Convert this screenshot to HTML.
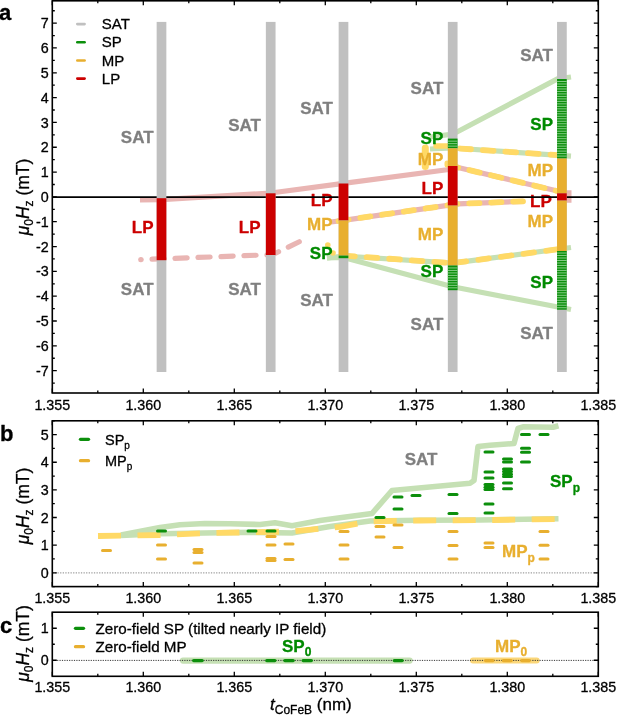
<!DOCTYPE html><html><head><meta charset="utf-8"><style>html,body{margin:0;padding:0;background:#fff;width:617px;height:715px;overflow:hidden}svg{display:block;will-change:transform}text{stroke:#000;stroke-width:0.3px;stroke-linejoin:round}</style></head><body>
<svg width="617" height="715" viewBox="0 0 617 715">
<rect width="617" height="715" fill="#fff"/>
<path d="M140.00,199.90 L161.50,199.60 L270.70,193.00 L343.50,183.30 L452.70,169.00" fill="none" stroke="#e9b5b3" stroke-width="5.2" stroke-linecap="butt" stroke-linejoin="round"/>
<path d="M140.70,259.60 L270.70,254.70 L277.00,252.50 L306.00,238.50" fill="none" stroke="#e9b5b3" stroke-width="5.2" stroke-linecap="round" stroke-linejoin="round" stroke-dasharray="12.2 10.8" stroke-dashoffset="11.7"/>
<path d="M331.00,222.00 L343.50,220.30 L452.70,204.60 L457.70,203.90 L523.00,201.30" fill="none" stroke="#e9b5b3" stroke-width="5.2" stroke-linecap="butt" stroke-linejoin="round"/>
<path d="M452.70,166.20 L565.00,192.80" fill="none" stroke="#e9b5b3" stroke-width="5.2" stroke-linecap="butt" stroke-linejoin="round"/>
<path d="M557.00,196.50 L571.50,196.50" fill="none" stroke="#e9b5b3" stroke-width="12.5" stroke-linecap="butt" stroke-linejoin="round"/>
<path d="M327.00,258.00 L343.50,257.50 L452.70,286.80 L571.00,309.50" fill="none" stroke="#c5e0b4" stroke-width="5.2" stroke-linecap="butt" stroke-linejoin="round"/>
<path d="M327.00,258.00 L343.50,256.00 L452.70,263.10 L571.00,247.50" fill="none" stroke="#c5e0b4" stroke-width="5.2" stroke-linecap="butt" stroke-linejoin="round"/>
<path d="M430.00,137.00 L452.70,134.20 L557.50,78.90 L571.00,77.00" fill="none" stroke="#c5e0b4" stroke-width="5.2" stroke-linecap="butt" stroke-linejoin="round"/>
<path d="M430.00,149.00 L452.70,148.00 L571.00,156.20" fill="none" stroke="#c5e0b4" stroke-width="5.2" stroke-linecap="butt" stroke-linejoin="round"/>
<path d="M338.50,221.00 L452.70,204.60 L457.70,203.90 L523.00,201.30" fill="none" stroke="#ffd966" stroke-width="5.8" stroke-linecap="round" stroke-linejoin="round" stroke-dasharray="10.2 11.8"/>
<path d="M452.70,166.20 L562.00,192.20" fill="none" stroke="#ffd966" stroke-width="5.8" stroke-linecap="round" stroke-linejoin="round" stroke-dasharray="10.7 11.5" stroke-dashoffset="5.1"/>
<path d="M343.50,255.60 L452.70,263.10" fill="none" stroke="#ffd966" stroke-width="5.8" stroke-linecap="round" stroke-linejoin="round" stroke-dasharray="10.7 11.9" stroke-dashoffset="22"/>
<path d="M452.70,263.10 L562.00,248.80" fill="none" stroke="#ffd966" stroke-width="5.8" stroke-linecap="round" stroke-linejoin="round" stroke-dasharray="10.7 12.1" stroke-dashoffset="19.8"/>
<path d="M452.70,148.00 L562.00,155.50" fill="none" stroke="#ffd966" stroke-width="5.8" stroke-linecap="round" stroke-linejoin="round" stroke-dasharray="10.7 11.9" stroke-dashoffset="15"/>
<path d="M448.00,146.00 L436.00,146.00" fill="none" stroke="#ffd966" stroke-width="5.4" stroke-linecap="round" stroke-linejoin="round"/>
<path d="M425.30,148.00 L425.30,166.50" fill="none" stroke="#ffd966" stroke-width="7" stroke-linecap="round" stroke-linejoin="round"/>
<path d="M447.00,163.00 L447.00,165.00" fill="none" stroke="#ffd966" stroke-width="5" stroke-linecap="round" stroke-linejoin="round"/>
<circle cx="327.8" cy="245" r="2.8" fill="#ffd966"/><circle cx="333" cy="253" r="2.8" fill="#ffd966"/>
<text x="153.6" y="142.90" text-anchor="end" font-size="17" font-weight="bold" fill="#7f7f7f" style="stroke:#7f7f7f" font-family="Liberation Sans, sans-serif">SAT</text>
<text x="153.6" y="294.90" text-anchor="end" font-size="17" font-weight="bold" fill="#7f7f7f" style="stroke:#7f7f7f" font-family="Liberation Sans, sans-serif">SAT</text>
<text x="153.6" y="232.60" text-anchor="end" font-size="17" font-weight="bold" fill="#cc0000" style="stroke:#cc0000" font-family="Liberation Sans, sans-serif">LP</text>
<text x="261" y="130.90" text-anchor="end" font-size="17" font-weight="bold" fill="#7f7f7f" style="stroke:#7f7f7f" font-family="Liberation Sans, sans-serif">SAT</text>
<text x="261" y="294.90" text-anchor="end" font-size="17" font-weight="bold" fill="#7f7f7f" style="stroke:#7f7f7f" font-family="Liberation Sans, sans-serif">SAT</text>
<text x="260.6" y="233.10" text-anchor="end" font-size="17" font-weight="bold" fill="#cc0000" style="stroke:#cc0000" font-family="Liberation Sans, sans-serif">LP</text>
<text x="333" y="113.60" text-anchor="end" font-size="17" font-weight="bold" fill="#7f7f7f" style="stroke:#7f7f7f" font-family="Liberation Sans, sans-serif">SAT</text>
<text x="333" y="305.90" text-anchor="end" font-size="17" font-weight="bold" fill="#7f7f7f" style="stroke:#7f7f7f" font-family="Liberation Sans, sans-serif">SAT</text>
<text x="332.5" y="205.90" text-anchor="end" font-size="17" font-weight="bold" fill="#cc0000" style="stroke:#cc0000" font-family="Liberation Sans, sans-serif">LP</text>
<text x="332.5" y="229.80" text-anchor="end" font-size="17" font-weight="bold" fill="#e8af2f" style="stroke:#e8af2f" font-family="Liberation Sans, sans-serif">MP</text>
<text x="332.5" y="259.00" text-anchor="end" font-size="17" font-weight="bold" fill="#008a00" style="stroke:#008a00" font-family="Liberation Sans, sans-serif">SP</text>
<text x="443.3" y="94.30" text-anchor="end" font-size="17" font-weight="bold" fill="#7f7f7f" style="stroke:#7f7f7f" font-family="Liberation Sans, sans-serif">SAT</text>
<text x="443.3" y="143.80" text-anchor="end" font-size="17" font-weight="bold" fill="#008a00" style="stroke:#008a00" font-family="Liberation Sans, sans-serif">SP</text>
<text x="443.3" y="165.20" text-anchor="end" font-size="17" font-weight="bold" fill="#e8af2f" style="stroke:#e8af2f" font-family="Liberation Sans, sans-serif">MP</text>
<text x="443.3" y="194.40" text-anchor="end" font-size="17" font-weight="bold" fill="#cc0000" style="stroke:#cc0000" font-family="Liberation Sans, sans-serif">LP</text>
<text x="443.3" y="239.60" text-anchor="end" font-size="17" font-weight="bold" fill="#e8af2f" style="stroke:#e8af2f" font-family="Liberation Sans, sans-serif">MP</text>
<text x="443.3" y="277.00" text-anchor="end" font-size="17" font-weight="bold" fill="#008a00" style="stroke:#008a00" font-family="Liberation Sans, sans-serif">SP</text>
<text x="443.3" y="330.10" text-anchor="end" font-size="17" font-weight="bold" fill="#7f7f7f" style="stroke:#7f7f7f" font-family="Liberation Sans, sans-serif">SAT</text>
<text x="553" y="60.50" text-anchor="end" font-size="17" font-weight="bold" fill="#7f7f7f" style="stroke:#7f7f7f" font-family="Liberation Sans, sans-serif">SAT</text>
<text x="553" y="129.70" text-anchor="end" font-size="17" font-weight="bold" fill="#008a00" style="stroke:#008a00" font-family="Liberation Sans, sans-serif">SP</text>
<text x="553" y="175.60" text-anchor="end" font-size="17" font-weight="bold" fill="#e8af2f" style="stroke:#e8af2f" font-family="Liberation Sans, sans-serif">MP</text>
<text x="551.8" y="206.70" text-anchor="end" font-size="17" font-weight="bold" fill="#cc0000" style="stroke:#cc0000" font-family="Liberation Sans, sans-serif">LP</text>
<text x="553" y="226.60" text-anchor="end" font-size="17" font-weight="bold" fill="#e8af2f" style="stroke:#e8af2f" font-family="Liberation Sans, sans-serif">MP</text>
<text x="553" y="288.40" text-anchor="end" font-size="17" font-weight="bold" fill="#008a00" style="stroke:#008a00" font-family="Liberation Sans, sans-serif">SP</text>
<text x="553" y="339.40" text-anchor="end" font-size="17" font-weight="bold" fill="#7f7f7f" style="stroke:#7f7f7f" font-family="Liberation Sans, sans-serif">SAT</text>
<path d="M52.3,197.1H598.3" stroke="#000" stroke-width="1.7"/>
<rect x="156.65" y="21.90" width="9.7" height="350.10" fill="#c0c0c0"/>
<rect x="265.85" y="21.90" width="9.7" height="350.10" fill="#c0c0c0"/>
<rect x="338.65" y="21.90" width="9.7" height="350.10" fill="#c0c0c0"/>
<rect x="447.85" y="21.90" width="9.7" height="350.10" fill="#c0c0c0"/>
<rect x="557.05" y="21.90" width="9.7" height="350.10" fill="#c0c0c0"/>
<rect x="156.65" y="198.20" width="9.7" height="62.00" fill="#cc0000"/>
<rect x="265.85" y="193.30" width="9.7" height="61.70" fill="#cc0000"/>
<rect x="338.65" y="183.50" width="9.7" height="37.00" fill="#cc0000"/>
<rect x="338.65" y="220.50" width="9.7" height="35.10" fill="#e8af2f"/>
<rect x="338.65" y="255.60" width="9.7" height="2.60" fill="#0c8f0c"/>
<rect x="447.85" y="138.60" width="9.7" height="9.70" fill="#0c8f0c"/>
<path d="M447.85,146.14h9.7M447.85,143.65h9.7M447.85,141.16h9.7" stroke="#86cc86" stroke-width="1.0"/>
<rect x="447.85" y="148.30" width="9.7" height="17.70" fill="#e8af2f"/>
<rect x="447.85" y="166.00" width="9.7" height="39.60" fill="#cc0000"/>
<rect x="447.85" y="205.60" width="9.7" height="59.90" fill="#e8af2f"/>
<rect x="447.85" y="265.50" width="9.7" height="24.70" fill="#0c8f0c"/>
<path d="M447.85,287.84h9.7M447.85,285.35h9.7M447.85,282.87h9.7M447.85,280.38h9.7M447.85,277.89h9.7M447.85,275.41h9.7M447.85,272.92h9.7M447.85,270.44h9.7M447.85,267.95h9.7" stroke="#86cc86" stroke-width="1.0"/>
<rect x="557.05" y="79.00" width="9.7" height="79.50" fill="#0c8f0c"/>
<path d="M557.05,156.08h9.7M557.05,153.59h9.7M557.05,151.11h9.7M557.05,148.62h9.7M557.05,146.14h9.7M557.05,143.65h9.7M557.05,141.16h9.7M557.05,138.68h9.7M557.05,136.19h9.7M557.05,133.71h9.7M557.05,131.22h9.7M557.05,128.73h9.7M557.05,126.25h9.7M557.05,123.76h9.7M557.05,121.28h9.7M557.05,118.79h9.7M557.05,116.30h9.7M557.05,113.82h9.7M557.05,111.33h9.7M557.05,108.85h9.7M557.05,106.36h9.7M557.05,103.87h9.7M557.05,101.39h9.7M557.05,98.90h9.7M557.05,96.42h9.7M557.05,93.93h9.7M557.05,91.44h9.7M557.05,88.96h9.7M557.05,86.47h9.7M557.05,83.99h9.7M557.05,81.50h9.7" stroke="#86cc86" stroke-width="1.0"/>
<rect x="557.05" y="158.50" width="9.7" height="34.80" fill="#e8af2f"/>
<rect x="557.05" y="193.30" width="9.7" height="7.30" fill="#cc0000"/>
<rect x="557.05" y="200.60" width="9.7" height="50.40" fill="#e8af2f"/>
<rect x="557.05" y="251.00" width="9.7" height="58.70" fill="#0c8f0c"/>
<path d="M557.05,307.73h9.7M557.05,305.24h9.7M557.05,302.75h9.7M557.05,300.27h9.7M557.05,297.78h9.7M557.05,295.30h9.7M557.05,292.81h9.7M557.05,290.32h9.7M557.05,287.84h9.7M557.05,285.35h9.7M557.05,282.87h9.7M557.05,280.38h9.7M557.05,277.89h9.7M557.05,275.41h9.7M557.05,272.92h9.7M557.05,270.44h9.7M557.05,267.95h9.7M557.05,265.46h9.7M557.05,262.98h9.7M557.05,260.49h9.7M557.05,258.01h9.7M557.05,255.52h9.7M557.05,253.03h9.7" stroke="#86cc86" stroke-width="1.0"/>
<path d="M77.3,24.10h7.3" stroke="#c0c0c0" stroke-width="2.6" stroke-linecap="round"/>
<text x="101.8" y="29.30" font-size="15" font-family="Liberation Sans, sans-serif">SAT</text>
<path d="M77.3,42.27h7.3" stroke="#0c8f0c" stroke-width="2.6" stroke-linecap="round"/>
<text x="101.8" y="47.47" font-size="15" font-family="Liberation Sans, sans-serif">SP</text>
<path d="M77.3,60.44h7.3" stroke="#e8af2f" stroke-width="2.6" stroke-linecap="round"/>
<text x="101.8" y="65.64" font-size="15" font-family="Liberation Sans, sans-serif">MP</text>
<path d="M77.3,78.61h7.3" stroke="#cc0000" stroke-width="2.6" stroke-linecap="round"/>
<text x="101.8" y="83.81" font-size="15" font-family="Liberation Sans, sans-serif">LP</text>
<rect x="52.3" y="0.8" width="546.0" height="392.2" fill="none" stroke="#000" stroke-width="1.6"/>
<path d="M52.30,393.0v-4.5M52.30,0.8v4.5M97.80,393.0v-2.5M97.80,0.8v2.5M143.30,393.0v-4.5M143.30,0.8v4.5M188.80,393.0v-2.5M188.80,0.8v2.5M234.30,393.0v-4.5M234.30,0.8v4.5M279.80,393.0v-2.5M279.80,0.8v2.5M325.30,393.0v-4.5M325.30,0.8v4.5M370.80,393.0v-2.5M370.80,0.8v2.5M416.30,393.0v-4.5M416.30,0.8v4.5M461.80,393.0v-2.5M461.80,0.8v2.5M507.30,393.0v-4.5M507.30,0.8v4.5M552.80,393.0v-2.5M552.80,0.8v2.5M598.30,393.0v-4.5M598.30,0.8v4.5M52.3,370.66h4.5M598.3,370.66h-4.5M52.3,345.84h4.5M598.3,345.84h-4.5M52.3,321.01h4.5M598.3,321.01h-4.5M52.3,296.19h4.5M598.3,296.19h-4.5M52.3,271.37h4.5M598.3,271.37h-4.5M52.3,246.55h4.5M598.3,246.55h-4.5M52.3,221.72h4.5M598.3,221.72h-4.5M52.3,196.90h4.5M598.3,196.90h-4.5M52.3,172.08h4.5M598.3,172.08h-4.5M52.3,147.25h4.5M598.3,147.25h-4.5M52.3,122.43h4.5M598.3,122.43h-4.5M52.3,97.61h4.5M598.3,97.61h-4.5M52.3,72.79h4.5M598.3,72.79h-4.5M52.3,47.96h4.5M598.3,47.96h-4.5M52.3,23.14h4.5M598.3,23.14h-4.5M52.3,383.07h2.5M598.3,383.07h-2.5M52.3,358.25h2.5M598.3,358.25h-2.5M52.3,333.43h2.5M598.3,333.43h-2.5M52.3,308.60h2.5M598.3,308.60h-2.5M52.3,283.78h2.5M598.3,283.78h-2.5M52.3,258.96h2.5M598.3,258.96h-2.5M52.3,234.13h2.5M598.3,234.13h-2.5M52.3,209.31h2.5M598.3,209.31h-2.5M52.3,184.49h2.5M598.3,184.49h-2.5M52.3,159.67h2.5M598.3,159.67h-2.5M52.3,134.84h2.5M598.3,134.84h-2.5M52.3,110.02h2.5M598.3,110.02h-2.5M52.3,85.20h2.5M598.3,85.20h-2.5M52.3,60.37h2.5M598.3,60.37h-2.5M52.3,35.55h2.5M598.3,35.55h-2.5M52.3,10.73h2.5M598.3,10.73h-2.5" stroke="#000" stroke-width="1.3" fill="none"/>
<text x="48.6" y="375.76" text-anchor="end" font-size="14.3" font-family="Liberation Sans, sans-serif">-7</text>
<text x="48.6" y="350.94" text-anchor="end" font-size="14.3" font-family="Liberation Sans, sans-serif">-6</text>
<text x="48.6" y="326.11" text-anchor="end" font-size="14.3" font-family="Liberation Sans, sans-serif">-5</text>
<text x="48.6" y="301.29" text-anchor="end" font-size="14.3" font-family="Liberation Sans, sans-serif">-4</text>
<text x="48.6" y="276.47" text-anchor="end" font-size="14.3" font-family="Liberation Sans, sans-serif">-3</text>
<text x="48.6" y="251.65" text-anchor="end" font-size="14.3" font-family="Liberation Sans, sans-serif">-2</text>
<text x="48.6" y="226.82" text-anchor="end" font-size="14.3" font-family="Liberation Sans, sans-serif">-1</text>
<text x="48.6" y="202.00" text-anchor="end" font-size="14.3" font-family="Liberation Sans, sans-serif">0</text>
<text x="48.6" y="177.18" text-anchor="end" font-size="14.3" font-family="Liberation Sans, sans-serif">1</text>
<text x="48.6" y="152.35" text-anchor="end" font-size="14.3" font-family="Liberation Sans, sans-serif">2</text>
<text x="48.6" y="127.53" text-anchor="end" font-size="14.3" font-family="Liberation Sans, sans-serif">3</text>
<text x="48.6" y="102.71" text-anchor="end" font-size="14.3" font-family="Liberation Sans, sans-serif">4</text>
<text x="48.6" y="77.89" text-anchor="end" font-size="14.3" font-family="Liberation Sans, sans-serif">5</text>
<text x="48.6" y="53.06" text-anchor="end" font-size="14.3" font-family="Liberation Sans, sans-serif">6</text>
<text x="48.6" y="28.24" text-anchor="end" font-size="14.3" font-family="Liberation Sans, sans-serif">7</text>
<text x="52.30" y="410.2" text-anchor="middle" font-size="14.3" font-family="Liberation Sans, sans-serif">1.355</text>
<text x="143.30" y="410.2" text-anchor="middle" font-size="14.3" font-family="Liberation Sans, sans-serif">1.360</text>
<text x="234.30" y="410.2" text-anchor="middle" font-size="14.3" font-family="Liberation Sans, sans-serif">1.365</text>
<text x="325.30" y="410.2" text-anchor="middle" font-size="14.3" font-family="Liberation Sans, sans-serif">1.370</text>
<text x="416.30" y="410.2" text-anchor="middle" font-size="14.3" font-family="Liberation Sans, sans-serif">1.375</text>
<text x="507.30" y="410.2" text-anchor="middle" font-size="14.3" font-family="Liberation Sans, sans-serif">1.380</text>
<text x="598.30" y="410.2" text-anchor="middle" font-size="14.3" font-family="Liberation Sans, sans-serif">1.385</text>
<text transform="translate(29.2,197) rotate(-90)" text-anchor="middle" font-size="17.5" font-family="Liberation Sans, sans-serif"><tspan font-style="italic">μ</tspan><tspan font-size="12" dy="4">0</tspan><tspan font-style="italic" dy="-4">H</tspan><tspan font-size="12" dy="4">z</tspan><tspan dy="-4"> (mT)</tspan></text>
<text x="-1" y="19.8" font-size="22" font-weight="bold" font-family="Liberation Sans, sans-serif">a</text>
<path d="M52.3,572.9H598" stroke="#888" stroke-width="1" stroke-dasharray="1.3 1.3"/>
<path d="M121.00,535.00 L134.00,532.50 L160.00,527.50 L180.00,524.80 L205.00,523.50 L230.00,523.80 L260.00,524.50 L275.00,522.80 L292.00,525.80 L320.00,520.50 L340.00,517.80 L372.00,513.50 L392.00,490.50 L470.00,483.20 L474.00,480.50 L478.00,446.50 L490.00,445.30 L514.00,443.50 L518.00,428.50 L523.00,426.80 L553.00,427.30 L558.50,425.80" fill="none" stroke="#c5e0b4" stroke-width="5.6" stroke-linecap="butt" stroke-linejoin="round"/>
<path d="M121.00,535.50 L160.00,533.80 L250.00,532.30 L292.00,533.00 L330.00,526.50 L370.00,521.00 L420.00,520.30 L480.00,520.00 L558.50,518.80" fill="none" stroke="#c5e0b4" stroke-width="5.6" stroke-linecap="butt" stroke-linejoin="round"/>
<path d="M98.00,536.00 L160.00,535.00 L200.00,533.30 L250.00,532.30 L292.00,531.50 L340.00,526.80 L370.00,521.30 L420.00,520.50 L480.00,520.20 L557.00,519.00" fill="none" stroke="#ffd966" stroke-width="5.8" stroke-linecap="butt" stroke-linejoin="round" stroke-dasharray="23 16.5"/>
<path d="M102.50,550.5h8" stroke="#e8af2f" stroke-width="3" stroke-linecap="round"/>
<path d="M157.50,545h8" stroke="#e8af2f" stroke-width="3" stroke-linecap="round"/>
<path d="M157.50,559h8" stroke="#e8af2f" stroke-width="3" stroke-linecap="round"/>
<path d="M194.00,549.5h8" stroke="#e8af2f" stroke-width="3" stroke-linecap="round"/>
<path d="M194.00,552.5h8" stroke="#e8af2f" stroke-width="3" stroke-linecap="round"/>
<path d="M194.00,563h8" stroke="#e8af2f" stroke-width="3" stroke-linecap="round"/>
<path d="M267.00,536.5h8" stroke="#e8af2f" stroke-width="3" stroke-linecap="round"/>
<path d="M267.00,545h8" stroke="#e8af2f" stroke-width="3" stroke-linecap="round"/>
<path d="M267.00,558.5h8" stroke="#e8af2f" stroke-width="3" stroke-linecap="round"/>
<path d="M267.00,560.5h8" stroke="#e8af2f" stroke-width="3" stroke-linecap="round"/>
<path d="M285.00,544h8" stroke="#e8af2f" stroke-width="3" stroke-linecap="round"/>
<path d="M285.00,559.5h8" stroke="#e8af2f" stroke-width="3" stroke-linecap="round"/>
<path d="M340.00,531.5h8" stroke="#e8af2f" stroke-width="3" stroke-linecap="round"/>
<path d="M340.00,545h8" stroke="#e8af2f" stroke-width="3" stroke-linecap="round"/>
<path d="M340.00,559h8" stroke="#e8af2f" stroke-width="3" stroke-linecap="round"/>
<path d="M376.00,526.5h8" stroke="#e8af2f" stroke-width="3" stroke-linecap="round"/>
<path d="M376.00,537h8" stroke="#e8af2f" stroke-width="3" stroke-linecap="round"/>
<path d="M394.00,525h8" stroke="#e8af2f" stroke-width="3" stroke-linecap="round"/>
<path d="M394.00,547.5h8" stroke="#e8af2f" stroke-width="3" stroke-linecap="round"/>
<path d="M449.00,531.5h8" stroke="#e8af2f" stroke-width="3" stroke-linecap="round"/>
<path d="M449.00,545.5h8" stroke="#e8af2f" stroke-width="3" stroke-linecap="round"/>
<path d="M449.00,559h8" stroke="#e8af2f" stroke-width="3" stroke-linecap="round"/>
<path d="M485.00,543h8" stroke="#e8af2f" stroke-width="3" stroke-linecap="round"/>
<path d="M485.00,547.5h8" stroke="#e8af2f" stroke-width="3" stroke-linecap="round"/>
<path d="M540.00,531.4h8" stroke="#e8af2f" stroke-width="3" stroke-linecap="round"/>
<path d="M540.00,545.2h8" stroke="#e8af2f" stroke-width="3" stroke-linecap="round"/>
<path d="M540.00,559h8" stroke="#e8af2f" stroke-width="3" stroke-linecap="round"/>
<path d="M157.50,531h8" stroke="#0c8f0c" stroke-width="3" stroke-linecap="round"/>
<path d="M248.00,531h8" stroke="#0c8f0c" stroke-width="3" stroke-linecap="round"/>
<path d="M267.00,531h8" stroke="#0c8f0c" stroke-width="3" stroke-linecap="round"/>
<path d="M376.00,517.5h8" stroke="#0c8f0c" stroke-width="3" stroke-linecap="round"/>
<path d="M394.00,497h8" stroke="#0c8f0c" stroke-width="3" stroke-linecap="round"/>
<path d="M394.00,509h8" stroke="#0c8f0c" stroke-width="3" stroke-linecap="round"/>
<path d="M412.00,495.5h8" stroke="#0c8f0c" stroke-width="3" stroke-linecap="round"/>
<path d="M449.00,494.5h8" stroke="#0c8f0c" stroke-width="3" stroke-linecap="round"/>
<path d="M449.00,513.5h8" stroke="#0c8f0c" stroke-width="3" stroke-linecap="round"/>
<path d="M485.00,452h8" stroke="#0c8f0c" stroke-width="3" stroke-linecap="round"/>
<path d="M485.00,472h8" stroke="#0c8f0c" stroke-width="3" stroke-linecap="round"/>
<path d="M485.00,478h8" stroke="#0c8f0c" stroke-width="3" stroke-linecap="round"/>
<path d="M485.00,484.6h8" stroke="#0c8f0c" stroke-width="3" stroke-linecap="round"/>
<path d="M485.00,487.2h8" stroke="#0c8f0c" stroke-width="3" stroke-linecap="round"/>
<path d="M485.00,489.6h8" stroke="#0c8f0c" stroke-width="3" stroke-linecap="round"/>
<path d="M485.00,504h8" stroke="#0c8f0c" stroke-width="3" stroke-linecap="round"/>
<path d="M485.00,513h8" stroke="#0c8f0c" stroke-width="3" stroke-linecap="round"/>
<path d="M503.50,459h8" stroke="#0c8f0c" stroke-width="3" stroke-linecap="round"/>
<path d="M503.50,462h8" stroke="#0c8f0c" stroke-width="3" stroke-linecap="round"/>
<path d="M503.50,469h8" stroke="#0c8f0c" stroke-width="3" stroke-linecap="round"/>
<path d="M503.50,471.6h8" stroke="#0c8f0c" stroke-width="3" stroke-linecap="round"/>
<path d="M503.50,474.2h8" stroke="#0c8f0c" stroke-width="3" stroke-linecap="round"/>
<path d="M503.50,476.6h8" stroke="#0c8f0c" stroke-width="3" stroke-linecap="round"/>
<path d="M503.50,483h8" stroke="#0c8f0c" stroke-width="3" stroke-linecap="round"/>
<path d="M503.50,488.7h8" stroke="#0c8f0c" stroke-width="3" stroke-linecap="round"/>
<path d="M521.50,434.4h8" stroke="#0c8f0c" stroke-width="3" stroke-linecap="round"/>
<path d="M521.50,448.3h8" stroke="#0c8f0c" stroke-width="3" stroke-linecap="round"/>
<path d="M521.50,452.2h8" stroke="#0c8f0c" stroke-width="3" stroke-linecap="round"/>
<path d="M521.50,462h8" stroke="#0c8f0c" stroke-width="3" stroke-linecap="round"/>
<path d="M540.00,434.4h8" stroke="#0c8f0c" stroke-width="3" stroke-linecap="round"/>
<text x="437.5" y="464.50" text-anchor="end" font-size="17" font-weight="bold" fill="#7f7f7f" style="stroke:#7f7f7f" font-family="Liberation Sans, sans-serif">SAT</text>
<text x="550" y="486.8" font-size="17" font-weight="bold" fill="#008a00" style="stroke:#008a00" font-family="Liberation Sans, sans-serif">SP<tspan font-size="12" dy="5">p</tspan></text>
<text x="502" y="556.8" font-size="17" font-weight="bold" fill="#e8af2f" style="stroke:#e8af2f" font-family="Liberation Sans, sans-serif">MP<tspan font-size="12" dy="5">p</tspan></text>
<path d="M80.5,439.3h8" stroke="#0c8f0c" stroke-width="3.3" stroke-linecap="round"/>
<path d="M80.5,460.7h8" stroke="#e8af2f" stroke-width="3.3" stroke-linecap="round"/>
<text x="105" y="444.7" font-size="14.5" font-family="Liberation Sans, sans-serif">SP<tspan font-size="10" dy="4">p</tspan></text>
<text x="105" y="466.1" font-size="14.5" font-family="Liberation Sans, sans-serif">MP<tspan font-size="10" dy="4">p</tspan></text>
<rect x="52.3" y="420.8" width="546.0" height="165.8" fill="none" stroke="#000" stroke-width="1.6"/>
<path d="M52.30,586.6v-4.5M52.30,420.8v4.5M97.80,586.6v-2.5M97.80,420.8v2.5M143.30,586.6v-4.5M143.30,420.8v4.5M188.80,586.6v-2.5M188.80,420.8v2.5M234.30,586.6v-4.5M234.30,420.8v4.5M279.80,586.6v-2.5M279.80,420.8v2.5M325.30,586.6v-4.5M325.30,420.8v4.5M370.80,586.6v-2.5M370.80,420.8v2.5M416.30,586.6v-4.5M416.30,420.8v4.5M461.80,586.6v-2.5M461.80,420.8v2.5M507.30,586.6v-4.5M507.30,420.8v4.5M552.80,586.6v-2.5M552.80,420.8v2.5M598.30,586.6v-4.5M598.30,420.8v4.5M52.3,572.78h4.5M598.3,572.78h-4.5M52.3,545.15h4.5M598.3,545.15h-4.5M52.3,517.52h4.5M598.3,517.52h-4.5M52.3,489.88h4.5M598.3,489.88h-4.5M52.3,462.25h4.5M598.3,462.25h-4.5M52.3,434.62h4.5M598.3,434.62h-4.5M52.3,586.60h2.5M598.3,586.60h-2.5M52.3,558.97h2.5M598.3,558.97h-2.5M52.3,531.33h2.5M598.3,531.33h-2.5M52.3,503.70h2.5M598.3,503.70h-2.5M52.3,476.07h2.5M598.3,476.07h-2.5M52.3,448.43h2.5M598.3,448.43h-2.5M52.3,420.80h2.5M598.3,420.80h-2.5" stroke="#000" stroke-width="1.3" fill="none"/>
<text x="48.6" y="577.88" text-anchor="end" font-size="14.3" font-family="Liberation Sans, sans-serif">0</text>
<text x="48.6" y="550.25" text-anchor="end" font-size="14.3" font-family="Liberation Sans, sans-serif">1</text>
<text x="48.6" y="522.62" text-anchor="end" font-size="14.3" font-family="Liberation Sans, sans-serif">2</text>
<text x="48.6" y="494.98" text-anchor="end" font-size="14.3" font-family="Liberation Sans, sans-serif">3</text>
<text x="48.6" y="467.35" text-anchor="end" font-size="14.3" font-family="Liberation Sans, sans-serif">4</text>
<text x="48.6" y="439.72" text-anchor="end" font-size="14.3" font-family="Liberation Sans, sans-serif">5</text>
<text x="52.30" y="602.5" text-anchor="middle" font-size="14.3" font-family="Liberation Sans, sans-serif">1.355</text>
<text x="143.30" y="602.5" text-anchor="middle" font-size="14.3" font-family="Liberation Sans, sans-serif">1.360</text>
<text x="234.30" y="602.5" text-anchor="middle" font-size="14.3" font-family="Liberation Sans, sans-serif">1.365</text>
<text x="325.30" y="602.5" text-anchor="middle" font-size="14.3" font-family="Liberation Sans, sans-serif">1.370</text>
<text x="416.30" y="602.5" text-anchor="middle" font-size="14.3" font-family="Liberation Sans, sans-serif">1.375</text>
<text x="507.30" y="602.5" text-anchor="middle" font-size="14.3" font-family="Liberation Sans, sans-serif">1.380</text>
<text x="598.30" y="602.5" text-anchor="middle" font-size="14.3" font-family="Liberation Sans, sans-serif">1.385</text>
<text transform="translate(29.2,506) rotate(-90)" text-anchor="middle" font-size="17.5" font-family="Liberation Sans, sans-serif"><tspan font-style="italic">μ</tspan><tspan font-size="12" dy="4">0</tspan><tspan font-style="italic" dy="-4">H</tspan><tspan font-size="12" dy="4">z</tspan><tspan dy="-4"> (mT)</tspan></text>
<text x="0" y="440.8" font-size="22" font-weight="bold" font-family="Liberation Sans, sans-serif">b</text>
<path d="M183.00,660.60 L409.70,660.60" fill="none" stroke="#c5e0b4" stroke-width="6.2" stroke-linecap="round" stroke-linejoin="round"/>
<path d="M473.00,660.60 L536.70,660.60" fill="none" stroke="#fbd77a" stroke-width="6.0" stroke-linecap="round" stroke-linejoin="round"/>
<path d="M52.3,660.4H598" stroke="#222" stroke-width="0.9" stroke-dasharray="1.2 1.2"/>
<path d="M193.70,660.6H202.10" stroke="#0c8f0c" stroke-width="3.4" stroke-linecap="round"/>
<path d="M266.80,660.6H274.80" stroke="#0c8f0c" stroke-width="3.4" stroke-linecap="round"/>
<path d="M284.90,660.6H293.10" stroke="#0c8f0c" stroke-width="3.4" stroke-linecap="round"/>
<path d="M303.20,660.6H311.30" stroke="#0c8f0c" stroke-width="3.4" stroke-linecap="round"/>
<path d="M394.40,660.6H402.10" stroke="#0c8f0c" stroke-width="3.4" stroke-linecap="round"/>
<path d="M485.60,660.6H492.90" stroke="#e8af2f" stroke-width="3.4" stroke-linecap="round"/>
<path d="M503.40,660.6H511.10" stroke="#e8af2f" stroke-width="3.4" stroke-linecap="round"/>
<path d="M521.90,660.6H529.20" stroke="#e8af2f" stroke-width="3.4" stroke-linecap="round"/>
<text x="282" y="652" font-size="17" font-weight="bold" fill="#008a00" style="stroke:#008a00" font-family="Liberation Sans, sans-serif">SP<tspan font-size="12" dy="3.5">0</tspan></text>
<text x="495" y="652" font-size="17" font-weight="bold" fill="#e8af2f" style="stroke:#e8af2f" font-family="Liberation Sans, sans-serif">MP<tspan font-size="12" dy="3.5">0</tspan></text>
<path d="M75.5,628.3h8" stroke="#0c8f0c" stroke-width="3.3" stroke-linecap="round"/>
<path d="M75.5,646.7h8" stroke="#e8af2f" stroke-width="3.3" stroke-linecap="round"/>
<text x="95.5" y="633.6" font-size="15.2" font-family="Liberation Sans, sans-serif">Zero-field SP (tilted nearly IP field)</text>
<text x="95.5" y="651.7" font-size="15.2" font-family="Liberation Sans, sans-serif">Zero-field MP</text>
<rect x="52.3" y="612.2" width="546.0" height="64.09999999999991" fill="none" stroke="#000" stroke-width="1.6"/>
<path d="M52.30,676.3v-4.5M52.30,612.2v4.5M97.80,676.3v-2.5M97.80,612.2v2.5M143.30,676.3v-4.5M143.30,612.2v4.5M188.80,676.3v-2.5M188.80,612.2v2.5M234.30,676.3v-4.5M234.30,612.2v4.5M279.80,676.3v-2.5M279.80,612.2v2.5M325.30,676.3v-4.5M325.30,612.2v4.5M370.80,676.3v-2.5M370.80,612.2v2.5M416.30,676.3v-4.5M416.30,612.2v4.5M461.80,676.3v-2.5M461.80,612.2v2.5M507.30,676.3v-4.5M507.30,612.2v4.5M552.80,676.3v-2.5M552.80,612.2v2.5M598.30,676.3v-4.5M598.30,612.2v4.5M52.3,660.27h4.5M598.3,660.27h-4.5M52.3,628.23h4.5M598.3,628.23h-4.5M52.3,644.25h2.5M598.3,644.25h-2.5" stroke="#000" stroke-width="1.3" fill="none"/>
<text x="48.6" y="665.38" text-anchor="end" font-size="14.3" font-family="Liberation Sans, sans-serif">0</text>
<text x="48.6" y="633.33" text-anchor="end" font-size="14.3" font-family="Liberation Sans, sans-serif">1</text>
<text x="52.30" y="691.8" text-anchor="middle" font-size="14.3" font-family="Liberation Sans, sans-serif">1.355</text>
<text x="143.30" y="691.8" text-anchor="middle" font-size="14.3" font-family="Liberation Sans, sans-serif">1.360</text>
<text x="234.30" y="691.8" text-anchor="middle" font-size="14.3" font-family="Liberation Sans, sans-serif">1.365</text>
<text x="325.30" y="691.8" text-anchor="middle" font-size="14.3" font-family="Liberation Sans, sans-serif">1.370</text>
<text x="416.30" y="691.8" text-anchor="middle" font-size="14.3" font-family="Liberation Sans, sans-serif">1.375</text>
<text x="507.30" y="691.8" text-anchor="middle" font-size="14.3" font-family="Liberation Sans, sans-serif">1.380</text>
<text x="598.30" y="691.8" text-anchor="middle" font-size="14.3" font-family="Liberation Sans, sans-serif">1.385</text>
<text transform="translate(29.2,643.5) rotate(-90)" text-anchor="middle" font-size="17.5" font-family="Liberation Sans, sans-serif"><tspan font-style="italic">μ</tspan><tspan font-size="12" dy="4">0</tspan><tspan font-style="italic" dy="-4">H</tspan><tspan font-size="12" dy="4">z</tspan><tspan dy="-4"> (mT)</tspan></text>
<text x="0" y="632.7" font-size="22" font-weight="bold" font-family="Liberation Sans, sans-serif">c</text>
<text x="270" y="709.9" font-size="17" font-family="Liberation Sans, sans-serif"><tspan font-style="italic">t</tspan><tspan font-size="12" dy="4">CoFeB</tspan><tspan dy="-4"> (nm)</tspan></text>
</svg></body></html>
